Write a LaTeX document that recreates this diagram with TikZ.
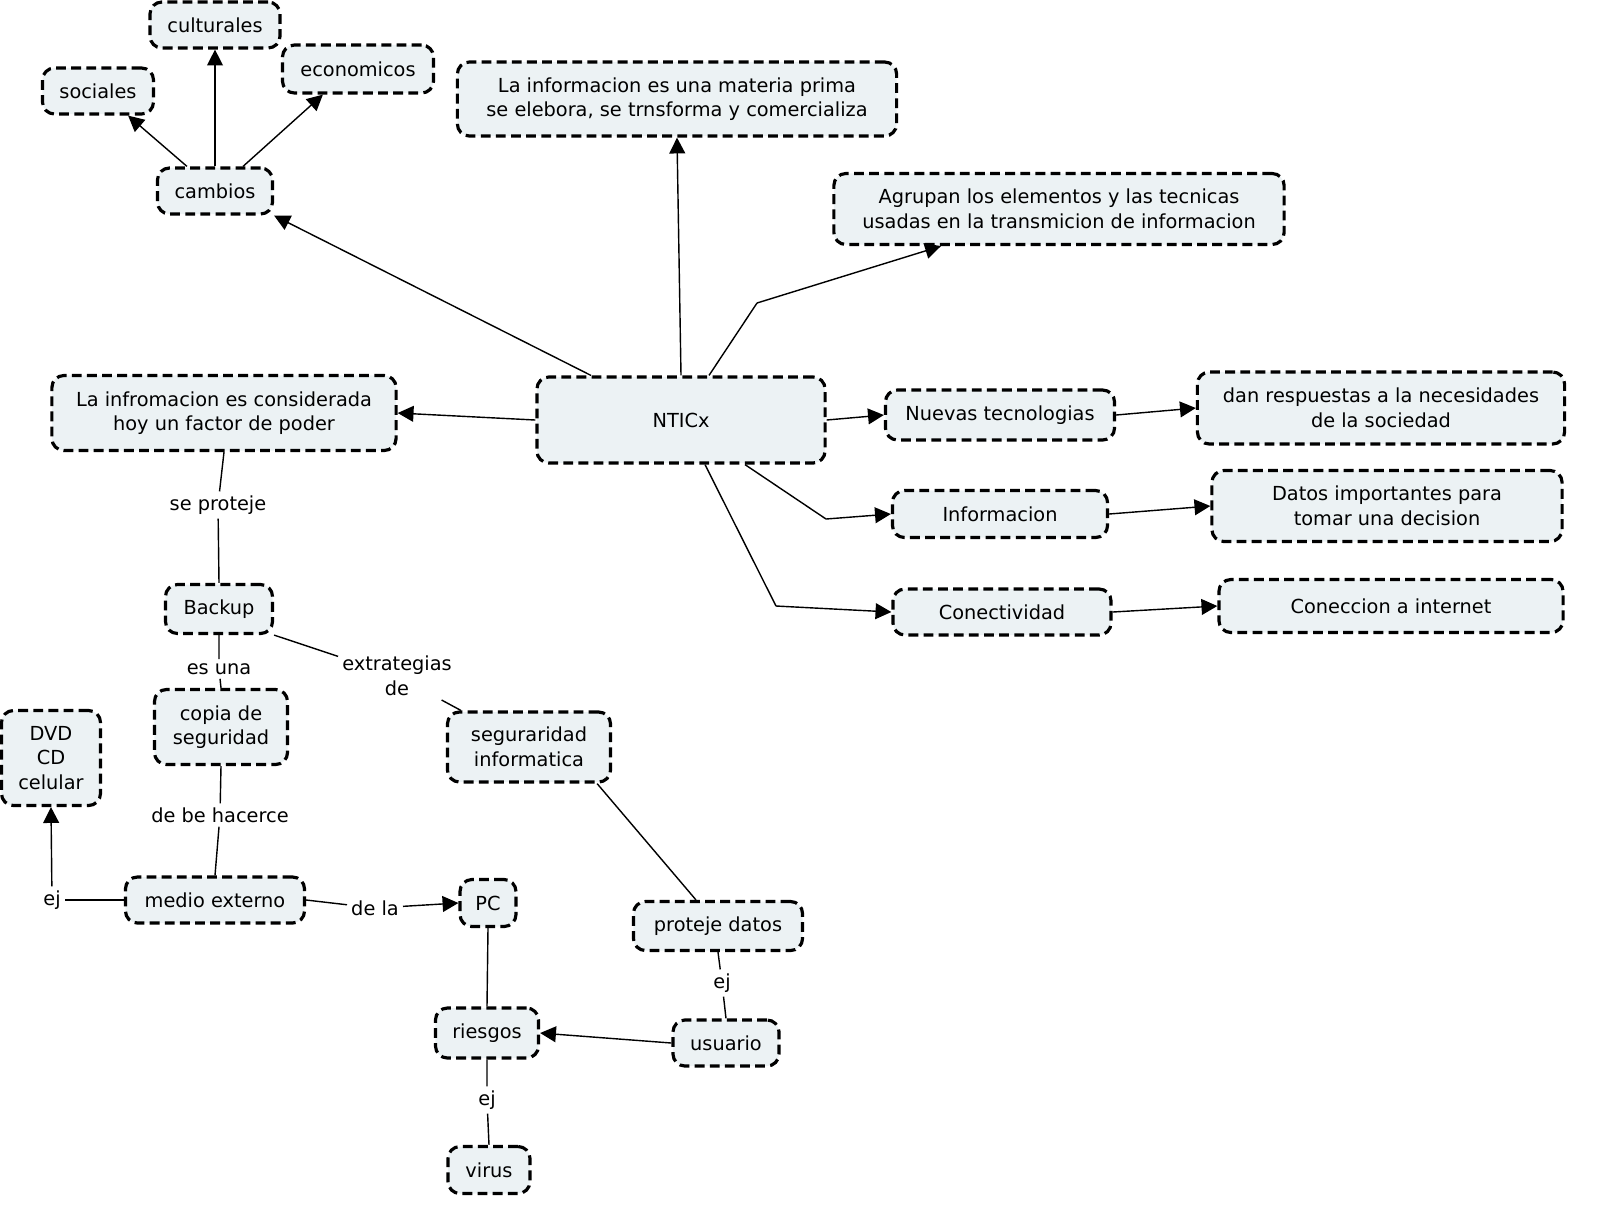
\documentclass[tikz,border=0pt]{standalone}
\usepackage{fontspec}
\setmainfont{DejaVu Sans}
\usetikzlibrary{arrows.meta}

\definecolor{cfill}{HTML}{ECF2F4}

\tikzset{
  concept/.style={draw, line width=0.9pt, dash pattern=on 2.8pt off 1.5pt, rounded corners=0.12cm,
    fill=cfill, align=center, inner sep=0pt, font=\fontsize{5.5}{7}\selectfont},
  phrase/.style={fill=white, align=center, inner sep=1pt, font=\fontsize{5.5}{7}\selectfont},
  link/.style={line width=0.4pt},
  arr/.style={line width=0.4pt, -{Triangle[length=4.5pt,width=4.5pt]}}
}

\begin{document}
\begin{tikzpicture}[x=0.01cm, y=-0.01cm]
			\useasboundingbox (0,0) rectangle (1600,1220);

			% concepts
			\node[concept, minimum width=1.3cm, minimum height=0.46cm] (culturales) at (215,25) {culturales};
			\node[concept, minimum width=1.51cm, minimum height=0.48cm] (economicos) at (358,69) {economicos};
			\node[concept, minimum width=1.11cm, minimum height=0.46cm] (sociales) at (98,91) {sociales};
			\node[concept, minimum width=1.15cm, minimum height=0.46cm] (cambios) at (215,191) {cambios};
			\node[concept, minimum width=4.39cm, minimum height=0.74cm] (materia) at (677,99) {La informacion es una materia prima\\se elebora, se trnsforma y comercializa};
			\node[concept, minimum width=4.5cm, minimum height=0.71cm] (agrupan) at (1059,209) {Agrupan los elementos y las tecnicas\\usadas en la transmicion de informacion};
			\node[concept, minimum width=3.44cm, minimum height=0.75cm] (poder) at (224,413) {La infromacion es considerada\\hoy un factor de poder};
			\node[concept, minimum width=2.88cm, minimum height=0.86cm] (nticx) at (681,420) {NTICx};
			\node[concept, minimum width=2.29cm, minimum height=0.5cm] (nuevas) at (1000,415) {Nuevas tecnologias};
			\node[concept, minimum width=3.67cm, minimum height=0.72cm] (respuestas) at (1381,408) {dan respuestas a la necesidades\\de la sociedad};
			\node[concept, minimum width=2.15cm, minimum height=0.47cm] (informacion) at (1000,514) {Informacion};
			\node[concept, minimum width=3.5cm, minimum height=0.71cm] (datos) at (1387,506) {Datos importantes para\\tomar una decision};
			\node[concept, minimum width=2.18cm, minimum height=0.46cm] (conectividad) at (1002,612) {Conectividad};
			\node[concept, minimum width=3.44cm, minimum height=0.53cm] (internet) at (1391,606) {Coneccion a internet};
			\node[concept, minimum width=1.07cm, minimum height=0.49cm] (backup) at (219,609) {Backup};
			\node[concept, minimum width=1.33cm, minimum height=0.75cm] (copia) at (221,727) {copia de\\seguridad};
			\node[concept, minimum width=0.99cm, minimum height=0.95cm] (dvd) at (51,758) {DVD\\CD\\celular};
			\node[concept, minimum width=1.63cm, minimum height=0.7cm] (seguridad) at (529,747) {seguraridad\\informatica};
			\node[concept, minimum width=1.79cm, minimum height=0.46cm] (medio) at (215,900) {medio externo};
			\node[concept, minimum width=0.56cm, minimum height=0.47cm] (pc) at (488,903) {PC};
			\node[concept, minimum width=1.69cm, minimum height=0.49cm] (protege) at (718,926) {proteje datos};
			\node[concept, minimum width=1.03cm, minimum height=0.5cm] (riesgos) at (487,1033) {riesgos};
			\node[concept, minimum width=1.06cm, minimum height=0.46cm] (usuario) at (726,1043) {usuario};
			\node[concept, minimum width=0.82cm, minimum height=0.47cm] (virus) at (489,1170) {virus};

			% linking phrases
			\node[phrase] (seproteje) at (218,505) {se proteje};
			\node[phrase] (esuna) at (219,669) {es una};
			\node[phrase] (extrategias) at (397,676) {extrategias\\de};
			\node[phrase] (hacerce) at (220,815) {de be hacerce};
			\node[phrase] (ejdvd) at (52,900) {ej};
			\node[phrase] (dela) at (375,908) {de la};
			\node[phrase] (ejusuario) at (722,983) {ej};
			\node[phrase] (ejvirus) at (487,1100) {ej};

			% bends of the empty links
			\coordinate (kagrupan) at (757,303);
			\coordinate (kinfo) at (826,519);
			\coordinate (kcon) at (776,606);

			% links from NTICx
			\draw[arr] ([xshift=-0.9cm]nticx.north) -- (cambios.south east);
			\draw[arr] (nticx.north) -- (materia.south);
			\draw[link] ([xshift=0.28cm]nticx.north) -- (kagrupan);
			\draw[arr] (kagrupan) -- ([xshift=-1.18cm]agrupan.south);
			\draw[arr] (nticx.west) -- (poder.east);
			\draw[arr] (nticx.east) -- (nuevas.west);
			\draw[link] ([xshift=0.64cm]nticx.south) -- (kinfo);
			\draw[arr] (kinfo) -- (informacion.west);
			\draw[link] ([xshift=0.24cm]nticx.south) -- (kcon);
			\draw[arr] (kcon) -- (conectividad.west);
			\draw[arr] (nuevas.east) -- (respuestas.west);
			\draw[arr] (informacion.east) -- (datos.west);
			\draw[arr] (conectividad.east) -- (internet.west);

			% cambios
			\draw[arr] ([xshift=-0.28cm]cambios.north) -- ([xshift=-0.27cm]sociales.south east);
			\draw[arr] (cambios.north) -- (culturales.south);
			\draw[arr] ([xshift=0.28cm]cambios.north) -- ([xshift=0.42cm]economicos.south west);

			% backup branch
			\draw[link] (poder.south) -- (seproteje) -- (backup.north);
			\draw[link] (backup.south) -- (esuna) -- (copia.north);
			\draw[link] (backup.south east) -- (extrategias) -- ([xshift=0.15cm]seguridad.north west);
			\draw[link] (copia.south) -- (hacerce) -- (medio.north);
			\draw[link] (medio.west) -- (ejdvd);
			\draw[arr] (ejdvd) -- (dvd.south);
			\draw[link] (medio.east) -- (dela);
			\draw[arr] (dela) -- (pc.west);
			\draw[link] ([xshift=-0.15cm]seguridad.south east) -- ([xshift=-0.22cm]protege.north);
			\draw[link] (protege.south) -- (ejusuario) -- (usuario.north);
			\draw[arr] (usuario.west) -- (riesgos.east);
			\draw[link] (pc.south) -- (riesgos.north);
			\draw[link] (riesgos.south) -- (ejvirus) -- (virus.north);
		\end{tikzpicture}
\end{document}
